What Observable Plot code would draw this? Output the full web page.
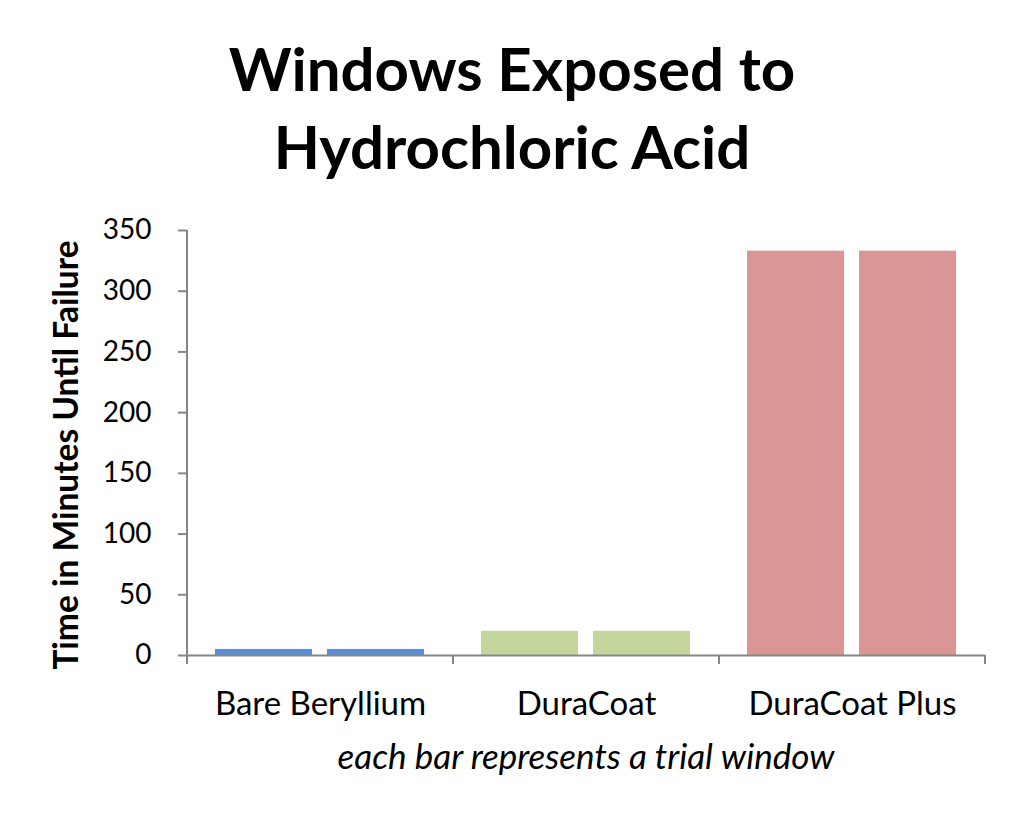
<!DOCTYPE html>
<html>
<head>
<meta charset="utf-8">
<script src="https://cdn.jsdelivr.net/npm/d3@7"></script>
<script src="https://cdn.jsdelivr.net/npm/@observablehq/plot@0.6"></script>
<style>
  body { margin: 0; background: #fff; font-family: Lato, sans-serif; color: #000; }
  #title { height: 200px; box-sizing: border-box; padding-top: 29px; text-align: center;
           font-weight: bold; font-size: 60px; line-height: 78px; }
  #caption { margin-left: 186px; width: 800px; text-align: center; font-style: italic;
             font-size: 35px; line-height: 50px; }
  #chart svg { display: block; }
</style>
</head>
<body>
<div id="title">Windows Exposed to<br>Hydrochloric Acid</div>
<div id="chart"></div>
<div id="caption">each bar represents a trial window</div>
<script>
const categories = ["Bare Beryllium", "DuraCoat", "DuraCoat Plus"];
const trials = ["Trial 1", "Trial 2"];
const bareBeryllium = [5, 5];
const duraCoat = [20, 20];
const duraCoatPlus = [333, 333];
const barColors = ["#5b8ed6", "#c3d69b", "#d99694"];
const yTicks = [0, 50, 100, 150, 200, 250, 300, 350];
const yLabel = "Time in Minutes Until Failure";

const seriesValues = [bareBeryllium, duraCoat, duraCoatPlus];
const data = categories.flatMap((c, i) =>
  trials.map((t, j) => ({category: c, trial: t, value: seriesValues[i][j]})));

const axisColor = "#868686";

const plot = Plot.plot({
  width: 1024,
  height: 530,
  marginLeft: 186,
  marginRight: 38,
  marginTop: 30,
  marginBottom: 75,
  style: {fontFamily: "Lato, sans-serif", fontSize: "28px", color: "#000", background: "#fff"},
  fx: {domain: categories, padding: 0, label: null, axis: null},
  x: {domain: trials, paddingInner: 0.133, paddingOuter: 0.248, axis: null},
  y: {domain: [0, 350], ticks: yTicks, labelArrow: "none"},
  color: {domain: categories, range: barColors},
  marks: [
    Plot.barY(data, {fx: "category", x: "trial", y: "value", fill: "category"}),
    Plot.ruleY([0], {stroke: axisColor, strokeWidth: 2}),
    Plot.axisY({ticks: yTicks, tickSize: 9, tickPadding: 27, stroke: axisColor, strokeWidth: 2,
                fill: "#000", fontSize: 28, label: null}),
    Plot.axisY({ticks: [], label: yLabel, labelArrow: "none", labelAnchor: "center", labelOffset: 133,
                fontWeight: "bold", fontSize: 33.5, fill: "#000"}),
    Plot.axisFx({anchor: "bottom", tickSize: 0, tickPadding: 36, fontSize: 33, fill: "#000", label: null})
  ]
});

document.getElementById("chart").appendChild(plot);

const svg = d3.select(plot.tagName === "svg" ? plot : plot.querySelector("svg"));

// nudge the rotated y-axis title slightly down, as in the reference
svg.selectAll("text").filter(function() { return this.textContent === yLabel; }).attr("dx", -12);

// Excel-style category axis: vertical axis line and ticks on band boundaries
const fx = plot.scale("fx");
const y = plot.scale("y");
const bw = fx.bandwidth;
const bounds = categories.map(c => fx.apply(c)).concat([fx.apply(categories[categories.length - 1]) + bw]);
const y0 = y.apply(0);
const yTop = y.apply(350);
const g = svg.append("g").attr("stroke", axisColor).attr("stroke-width", 2);
g.append("line").attr("x1", bounds[0]).attr("x2", bounds[0]).attr("y1", yTop).attr("y2", y0 + 9);
g.selectAll("line.b").data(bounds).join("line").attr("class", "b")
  .attr("x1", d => d).attr("x2", d => d).attr("y1", y0).attr("y2", y0 + 9);
</script>
</body>
</html>
